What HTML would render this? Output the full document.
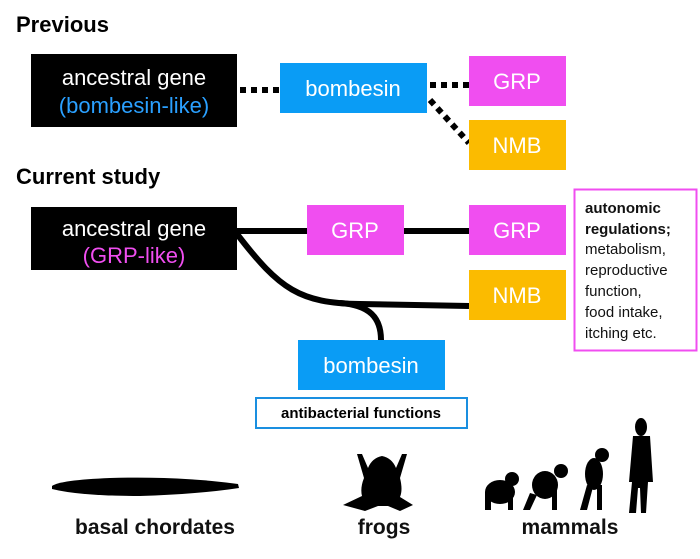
<!DOCTYPE html>
<html><head><meta charset="utf-8"><style>
body{margin:0;background:#fff;width:700px;height:554px;overflow:hidden;font-family:"Liberation Sans",Arial,sans-serif}
</style></head><body>
<svg width="700" height="554" xmlns="http://www.w3.org/2000/svg" font-family="Liberation Sans, Arial, sans-serif">
<text x="16" y="32" font-size="22" font-weight="bold">Previous</text>
<rect x="31" y="54" width="206" height="73" fill="#000"/>
<text x="134" y="85" font-size="22" fill="#fff" text-anchor="middle">ancestral gene</text>
<text x="134" y="113" font-size="22" fill="#2aa0ff" text-anchor="middle">(bombesin-like)</text>
<line x1="240" y1="90" x2="280" y2="90" stroke="#000" stroke-width="6" stroke-dasharray="6,5"/>
<rect x="280" y="63" width="147" height="50" fill="#0a9cf5"/>
<text x="353" y="96" font-size="22" fill="#fff" text-anchor="middle">bombesin</text>
<line x1="430" y1="85" x2="469" y2="85" stroke="#000" stroke-width="6" stroke-dasharray="6,5"/>
<line x1="430" y1="100" x2="469" y2="143" stroke="#000" stroke-width="6" stroke-dasharray="6,5"/>
<rect x="469" y="56" width="97" height="50" fill="#f04ef0"/>
<text x="517" y="89" font-size="22" fill="#fff" text-anchor="middle">GRP</text>
<rect x="469" y="120" width="97" height="50" fill="#fbbb00"/>
<text x="517" y="153" font-size="22" fill="#fff" text-anchor="middle">NMB</text>

<text x="16" y="184" font-size="22" font-weight="bold">Current study</text>
<path d="M237 231 H469" stroke="#000" stroke-width="6" fill="none"/>
<path d="M237 234 C280 290 300 303 360 304 L469 306" stroke="#000" stroke-width="6" fill="none"/>
<path d="M340 303 C370 305 381 318 381 340" stroke="#000" stroke-width="6" fill="none"/>
<rect x="31" y="207" width="206" height="63" fill="#000"/>
<text x="134" y="236" font-size="22" fill="#fff" text-anchor="middle">ancestral gene</text>
<text x="134" y="263" font-size="22" fill="#f04ef0" text-anchor="middle">(GRP-like)</text>
<rect x="307" y="205" width="97" height="50" fill="#f04ef0"/>
<text x="355" y="238" font-size="22" fill="#fff" text-anchor="middle">GRP</text>
<rect x="469" y="205" width="97" height="50" fill="#f04ef0"/>
<text x="517" y="238" font-size="22" fill="#fff" text-anchor="middle">GRP</text>
<rect x="469" y="270" width="97" height="50" fill="#fbbb00"/>
<text x="517" y="303" font-size="22" fill="#fff" text-anchor="middle">NMB</text>
<rect x="574.5" y="189.5" width="122" height="161" fill="none" stroke="#f04ef0" stroke-width="2"/>
<g font-size="15" fill="#111">
<text x="585" y="213" font-weight="bold">autonomic</text>
<text x="585" y="234" font-weight="bold">regulations;</text>
<text x="585" y="254">metabolism,</text>
<text x="585" y="275">reproductive</text>
<text x="585" y="296">function,</text>
<text x="585" y="317">food intake,</text>
<text x="585" y="338">itching etc.</text>
</g>
<rect x="298" y="340" width="147" height="50" fill="#0a9cf5"/>
<text x="371" y="373" font-size="22" fill="#fff" text-anchor="middle">bombesin</text>
<rect x="256" y="398" width="211" height="30" fill="#fff" stroke="#1a8fe0" stroke-width="2"/>
<text x="361" y="418" font-size="15" font-weight="bold" text-anchor="middle">antibacterial functions</text>

<path d="M52 486 Q60 480 110 478 Q180 476 238 484 L239 488 Q200 494 140 496 Q80 496 52 489 Z" fill="#000"/>
<g fill="#000">
<path d="M357 454 L362 454 L368 468 Q372 458 382 456 Q392 458 396 468 L402 454 L407 454 L400 478 Q403 490 400 497 L413 505 L400 511 L388 506 L378 506 L365 511 L343 505 L362 496 Q360 488 364 478 Z"/>
</g>
<g fill="#000">
<ellipse cx="500" cy="492" rx="15" ry="12"/><circle cx="512" cy="479" r="7"/>
<rect x="485" y="492" width="6" height="18"/><rect x="508" y="492" width="5" height="18"/>
<ellipse cx="545" cy="485" rx="13" ry="14"/><circle cx="561" cy="471" r="7"/>
<path d="M530 493 L523 510 L530 510 L537 495 Z"/><rect x="552" y="490" width="5" height="20"/>
<ellipse cx="594" cy="474" rx="9" ry="16"/><circle cx="602" cy="455" r="7"/>
<path d="M587 485 L580 510 L587 510 L593 487 Z"/><rect x="597" y="485" width="5" height="25"/>
<ellipse cx="641" cy="427" rx="6" ry="9"/>
<path d="M633 436 L650 436 L653 482 L648 482 L646 513 L641 513 L640 488 L638 488 L636 513 L629 513 L632 482 L629 482 Z"/>
</g>
<g font-size="21" font-weight="bold" text-anchor="middle" fill="#111">
<text x="155" y="534">basal chordates</text>
<text x="384" y="534">frogs</text>
<text x="570" y="534">mammals</text>
</g>
</svg>
</body></html>
